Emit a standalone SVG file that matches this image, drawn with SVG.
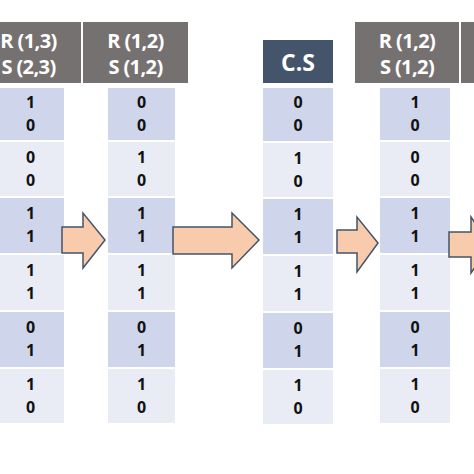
<svg xmlns="http://www.w3.org/2000/svg" width="474" height="474" viewBox="0 0 474 474">
<style>
.hd{fill:#767171}
.cs{fill:#44546a}
.d{fill:#cfd5ea}
.l{fill:#e9ebf5}
.ht{font-family:"Open Sans","Liberation Sans",sans-serif;font-weight:700;font-size:20px;letter-spacing:-0.6px;fill:#ffffff;text-anchor:middle}
.ct{font-family:"Open Sans","Liberation Sans",sans-serif;font-weight:700;font-size:23px;fill:#ffffff;text-anchor:middle}
.v{font-family:"Open Sans","Liberation Sans",sans-serif;font-weight:700;font-size:16px;fill:#111111;text-anchor:middle}
.ar{fill:#f8cbad;stroke:#44546a;stroke-width:1.5;stroke-linejoin:miter}
</style>
<rect width="474" height="474" fill="#ffffff"/>
<g id="col1">
<rect class="hd" x="-24" y="22" width="105" height="61"/>
<text class="ht" x="28.5" y="48">R (1,3)</text>
<text class="ht" x="28.5" y="74">S (2,3)</text>
<rect class="d" x="-3" y="88" width="67" height="52"/>
<rect class="l" x="-3" y="142" width="67" height="54"/>
<rect class="d" x="-3" y="198" width="67" height="55"/>
<rect class="l" x="-3" y="255" width="67" height="55"/>
<rect class="d" x="-3" y="312" width="67" height="55"/>
<rect class="l" x="-3" y="369" width="67" height="54"/>
<text class="v" x="30.5" y="108">1</text><text class="v" x="30.5" y="131">0</text>
<text class="v" x="30.5" y="163">0</text><text class="v" x="30.5" y="186">0</text>
<text class="v" x="30.5" y="219">1</text><text class="v" x="30.5" y="242">1</text>
<text class="v" x="30.5" y="276">1</text><text class="v" x="30.5" y="299">1</text>
<text class="v" x="30.5" y="333">0</text><text class="v" x="30.5" y="356">1</text>
<text class="v" x="30.5" y="390">1</text><text class="v" x="30.5" y="413">0</text>
</g>
<g id="col2">
<rect class="hd" x="83" y="22" width="105" height="61"/>
<text class="ht" x="135.5" y="48">R (1,2)</text>
<text class="ht" x="135.5" y="74">S (1,2)</text>
<rect class="d" x="108" y="88" width="67" height="52"/>
<rect class="l" x="108" y="142" width="67" height="54"/>
<rect class="d" x="108" y="198" width="67" height="55"/>
<rect class="l" x="108" y="255" width="67" height="55"/>
<rect class="d" x="108" y="312" width="67" height="55"/>
<rect class="l" x="108" y="369" width="67" height="54"/>
<text class="v" x="141.5" y="108">0</text><text class="v" x="141.5" y="131">0</text>
<text class="v" x="141.5" y="163">1</text><text class="v" x="141.5" y="186">0</text>
<text class="v" x="141.5" y="219">1</text><text class="v" x="141.5" y="242">1</text>
<text class="v" x="141.5" y="276">1</text><text class="v" x="141.5" y="299">1</text>
<text class="v" x="141.5" y="333">0</text><text class="v" x="141.5" y="356">1</text>
<text class="v" x="141.5" y="390">1</text><text class="v" x="141.5" y="413">0</text>
</g>
<g id="col3">
<rect class="cs" x="263" y="40" width="70" height="43"/>
<text class="ct" x="298" y="71">C.S</text>
<rect class="d" x="263" y="88" width="70" height="53"/>
<rect class="l" x="263" y="143" width="70" height="54"/>
<rect class="d" x="263" y="199" width="70" height="55"/>
<rect class="l" x="263" y="256" width="70" height="55"/>
<rect class="d" x="263" y="313" width="70" height="55"/>
<rect class="l" x="263" y="370" width="70" height="54"/>
<text class="v" x="298" y="108">0</text><text class="v" x="298" y="131">0</text>
<text class="v" x="298" y="164">1</text><text class="v" x="298" y="187">0</text>
<text class="v" x="298" y="220">1</text><text class="v" x="298" y="243">1</text>
<text class="v" x="298" y="277">1</text><text class="v" x="298" y="300">1</text>
<text class="v" x="298" y="334">0</text><text class="v" x="298" y="357">1</text>
<text class="v" x="298" y="391">1</text><text class="v" x="298" y="414">0</text>
</g>
<g id="col4">
<rect class="hd" x="355" y="22" width="104" height="61"/>
<text class="ht" x="407" y="48">R (1,2)</text>
<text class="ht" x="407" y="74">S (1,2)</text>
<rect class="d" x="380" y="88" width="70" height="52"/>
<rect class="l" x="380" y="142" width="70" height="54"/>
<rect class="d" x="380" y="198" width="70" height="55"/>
<rect class="l" x="380" y="255" width="70" height="55"/>
<rect class="d" x="380" y="312" width="70" height="55"/>
<rect class="l" x="380" y="369" width="70" height="54"/>
<text class="v" x="415" y="108">1</text><text class="v" x="415" y="131">0</text>
<text class="v" x="415" y="163">0</text><text class="v" x="415" y="186">0</text>
<text class="v" x="415" y="219">1</text><text class="v" x="415" y="242">1</text>
<text class="v" x="415" y="276">1</text><text class="v" x="415" y="299">1</text>
<text class="v" x="415" y="333">0</text><text class="v" x="415" y="356">1</text>
<text class="v" x="415" y="390">1</text><text class="v" x="415" y="413">0</text>
</g>
<g id="col5">
<rect class="hd" x="461" y="22" width="20" height="61"/>
</g>
<g id="connectors">
<polygon class="ar" points="62,227 83,227 83,213 105,240 83,268 83,253 62,253"/>
<polygon class="ar" points="173,227 232,227 232,213 259,240 232,268 232,254 173,254"/>
<polygon class="ar" points="337,230 357,230 357,217 378,243 357,272 357,253 337,253"/>
<polygon class="ar" points="449,232 471,232 471,217 490,245 471,273 471,257 449,257"/>
</g>
</svg>
